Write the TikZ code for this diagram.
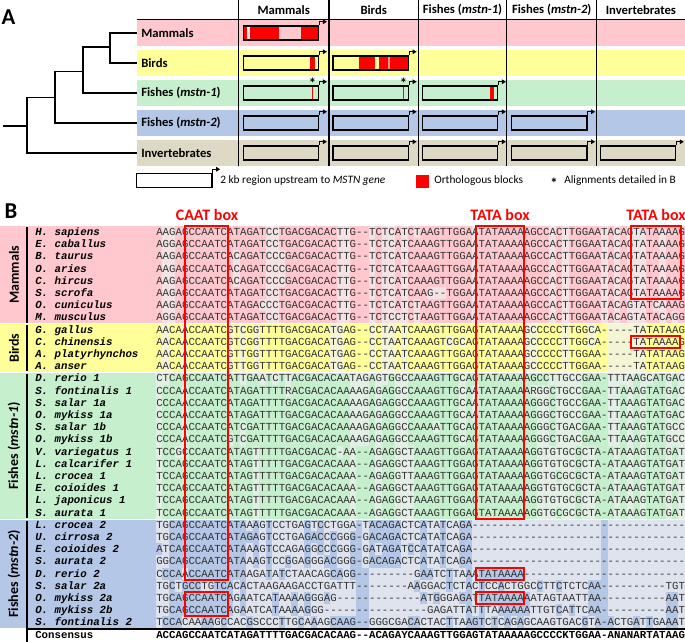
\documentclass[tikz,border=0pt]{standalone}
\usepackage{fontspec}
\setmainfont{Carlito}
\setmonofont{Liberation Mono}
\usetikzlibrary{arrows.meta}

\definecolor{mampink}{RGB}{255,199,206}
\definecolor{birdyellow}{RGB}{255,255,153}
\definecolor{fishgreen}{RGB}{198,239,206}
\definecolor{fishblue}{RGB}{180,199,231}
\definecolor{invtan}{RGB}{221,217,196}

% residues that differ from the consensus get a pale cell
\newcount\cellno
\def\consensus{ACCAGCCAATCATAGATTTTGACGACACAAG--ACAGAYCAAAGTTGGAGTATAAAAAGCCCCKTGGAA-ANANARTATAAG}
\def\shadestep#1#2\relax#3#4\relax{%
  \if#1#3\else\fill[mismatch] (156+6.45*\the\cellno,\rowy-6.1) rectangle ++(6.45,12.2);\fi
  \advance\cellno by 1
  \ifx\relax#2\relax\else\ifx\relax#4\relax\else\shadestep#2\relax#4\relax\fi\fi}
\newcommand\seqrow[4]{%
  \def\rowy{#2}\cellno=0
  \expandafter\shadestep\consensus\relax#4\relax
  \node[species] (#1) at (35,#2+3.5) {#3};
  \node[residues] (#1-seq) at (156,#2+3.5) {#4};}

\begin{document}
\begin{tikzpicture}[x=0.75pt,y=-0.75pt,
  panel/.style={font=\fontsize{17}{20}\selectfont\bfseries,inner sep=0pt},
  band/.style={minimum width=411pt,minimum height=19.5pt,inner sep=0pt,anchor=west},
  rowlabel/.style={font=\fontsize{9.5}{11}\selectfont\bfseries,anchor=west,inner sep=0pt},
  colhead/.style={font=\fontsize{9.5}{11}\selectfont\bfseries,inner sep=0pt},
  colline/.style={line width=1.1pt},
  treeline/.style={line width=1.3pt},
  genebox/.style={draw,line width=1.1pt,minimum width=56.5pt,minimum height=10.5pt,inner sep=0pt},
  tss/.style={line width=0.9pt,-{Triangle[length=3pt,width=3.4pt]}},
  ortho/.style={fill=red},
  asterisk/.style={font=\fontsize{11}{12}\selectfont\bfseries,inner sep=0pt},
  legtext/.style={font=\fontsize{8.5}{10}\selectfont,anchor=west,inner sep=0pt},
  grouplabel/.style={font=\fontsize{10.5}{12}\selectfont\bfseries,rotate=90,inner sep=0pt},
  groupline/.style={line width=1.5pt},
  species/.style={font=\ttfamily\fontsize{8.06}{9}\selectfont\bfseries\itshape,anchor=base west,inner sep=0pt},
  residues/.style={font=\ttfamily\fontsize{8.06}{9}\selectfont,text=black!80,anchor=base west,inner sep=0pt},
  mismatch/.style={fill=black!6,fill opacity=.7},
  redbox/.style={draw=red,line width=1.5pt},
  boxlabel/.style={font=\fontsize{12}{14}\selectfont\bfseries,text=red,inner sep=0pt}]
\useasboundingbox (0,0) rectangle (685,642);

%%% panel A
\node[panel] (laba) at (8.5,17.5) {A};

\node[band,fill=mampink] (rowmam) at (137,33) {};
\node[band,fill=birdyellow] (rowbird) at (137,63) {};
\node[band,fill=fishgreen] (rowfa) at (137,93) {};
\node[band,fill=fishblue] (rowfb) at (137,123) {};
\node[band,fill=invtan] (rowinv) at (137,153) {};

\node[rowlabel] (labmam) at (141,33) {Mammals};
\node[rowlabel] (labbird) at (141,63) {Birds};
\node[rowlabel] (labfa) at (141,93) {Fishes (\textit{mstn-1})};
\node[rowlabel] (labfb) at (141,123) {Fishes (\textit{mstn-2})};
\node[rowlabel] (labinv) at (141,153) {Invertebrates};

% tree
\draw[treeline] (rowmam.west) -- (110,33) -- (110,63) -- (rowbird.west);
\draw[treeline] (110,47) -- (83,47) -- (83,93) -- (rowfa.west);
\draw[treeline] (83,71.5) -- (55,71.5) -- (55,123) -- (rowfb.west);
\draw[treeline] (55,97.5) -- (27,97.5) -- (27,153) -- (rowinv.west);
\draw[treeline] (27,126) -- (3,126);

% table
\draw[line width=1pt] (137,19.5) -- (685,19.5);
\draw[colline] (238.3,0) -- (238.3,166);
\draw[colline] (329,0) -- (329,166);
\draw[colline] (418.3,0) -- (418.3,166);
\draw[colline] (506.7,0) -- (506.7,166);
\draw[colline] (596.7,0) -- (596.7,166);
\node[colhead] (hmam) at (283.7,10) {Mammals};
\node[colhead] (hbird) at (373.7,10) {Birds};
\node[colhead] (hfa) at (462.5,10) {Fishes (\textit{mstn-1})};
\node[colhead] (hfb) at (551.7,10) {Fishes (\textit{mstn-2})};
\node[colhead] (hinv) at (640.9,10) {Invertebrates};

% orthologous blocks
\fill[ortho] (244,26) rectangle (279.3,40);
\fill[mampink!40] (247.3,26) rectangle (250,40);
\fill[ortho] (300.7,26) rectangle (318.3,40);
\fill[ortho] (310.3,56) rectangle (315,70);
\fill[ortho] (359,56) rectangle (375,70);
\fill[ortho] (379,56) rectangle (408,70);
\fill[red!45] (388.3,56) rectangle (389.7,70);
\fill[ortho] (311.8,86) rectangle (313.4,100);
\fill[ortho] (402.7,86) rectangle (404.3,100);
\fill[ortho] (490,86) rectangle (493.5,100);

% upstream regions
\node[genebox] (bmam1) at (281,33) {}; \draw[tss] (bmam1.north east) -- ++(0,-3.5) -- ++(7.5,0);
\node[genebox] (bbird1) at (281,63) {}; \draw[tss] (bbird1.north east) -- ++(0,-3.5) -- ++(7.5,0);
\node[genebox] (bbird2) at (370.7,63) {}; \draw[tss] (bbird2.north east) -- ++(0,-3.5) -- ++(7.5,0);
\node[genebox] (bfa1) at (281,93) {}; \draw[tss] (bfa1.north east) -- ++(0,-3.5) -- ++(7.5,0);
\node[genebox] (bfa2) at (370.7,93) {}; \draw[tss] (bfa2.north east) -- ++(0,-3.5) -- ++(7.5,0);
\node[genebox] (bfa3) at (460,93) {}; \draw[tss] (bfa3.north east) -- ++(0,-3.5) -- ++(7.5,0);
\node[genebox] (bfb1) at (281,123) {}; \draw[tss] (bfb1.north east) -- ++(0,-3.5) -- ++(7.5,0);
\node[genebox] (bfb2) at (370.7,123) {}; \draw[tss] (bfb2.north east) -- ++(0,-3.5) -- ++(7.5,0);
\node[genebox] (bfb3) at (460,123) {}; \draw[tss] (bfb3.north east) -- ++(0,-3.5) -- ++(7.5,0);
\node[genebox] (bfb4) at (549.2,123) {}; \draw[tss] (bfb4.north east) -- ++(0,-3.5) -- ++(7.5,0);
\node[genebox] (binv1) at (281,153) {}; \draw[tss] (binv1.north east) -- ++(0,-3.5) -- ++(7.5,0);
\node[genebox] (binv2) at (370.7,153) {}; \draw[tss] (binv2.north east) -- ++(0,-3.5) -- ++(7.5,0);
\node[genebox] (binv3) at (460,153) {}; \draw[tss] (binv3.north east) -- ++(0,-3.5) -- ++(7.5,0);
\node[genebox] (binv4) at (549.2,153) {}; \draw[tss] (binv4.north east) -- ++(0,-3.5) -- ++(7.5,0);
\node[genebox] (binv5) at (637.9,153) {}; \draw[tss] (binv5.north east) -- ++(0,-3.5) -- ++(7.5,0);

\node[asterisk] (stara) at (312.6,83.5) {*};
\node[asterisk] (starb) at (403.5,83.5) {*};

% legend
\node[genebox,fill=white] (legbox) at (174.2,180.5) {};
\draw[tss] (legbox.north east) -- ++(0,-3.5) -- ++(7.5,0);
\node[legtext] (legtxt) at (220,181) {2 kb region upstream to \textit{MSTN gene}};
\node[fill=red,minimum size=10pt,inner sep=0pt] (legred) at (422.7,181.5) {};
\node[legtext] (legortho) at (434,181) {Orthologous blocks};
\node[asterisk] (legstar) at (554,183) {*};
\node[legtext] (legalign) at (564,181) {Alignments detailed in B};

%%% panel B
\node[panel] (labb) at (11,211) {B};

\fill[mampink] (0,226) rectangle (685,323.3);
\fill[birdyellow] (0,324.3) rectangle (685,372.1);
\fill[fishgreen] (0,373.1) rectangle (685,518.5);
\fill[fishblue] (0,519.5) rectangle (685,628);

\seqrow{hsap}{232}{H. sapiens}{AAGAGCCAATCATAGATCCTGACGACACTTG--TCTCATCTAAGTTGGAATATAAAAAGCCACTTGGAATACAGTATAAAAG}
\seqrow{ecab}{244.2}{E. caballus}{AGGAGCCAATCATAGATCCTGACGACACTTG--TCTCATCAAAGTTGGAATATAAAAAGCCACTTGGAATACAGTATAAAAG}
\seqrow{btau}{256.4}{B. taurus}{AAGAGCCAATCACAGATCCCGACGACACTTG--TCTCATCAAAGTTGGAATATAAAAAGCCACTTGGAATACAGTATAAAAG}
\seqrow{oari}{268.6}{O. aries}{AAGAGCCAATCACAGATCCCGACGACACTTG--TCTCATCAAAGTTGGAATATAAAAAGCCACTTGGAATACAGTATAAAAG}
\seqrow{chir}{280.8}{C. hircus}{AAGAGCCAATCACAGATCCCGACGACACTTG--TCTCATCAAAGTTGGAATATAAAAAGCCACTTGGAATACAGTATAAAAG}
\seqrow{sscr}{293}{S. scrofa}{AAGAGCCAATCATAGATCCTGACGACACTTG--TCTCATCAAG--TGGAATATAAAAAGCCACTTGGAATACAGTATAAAAG}
\seqrow{ocun}{305.2}{O. cuniculus}{AAGAGCCAATCATAGACCCTGACGACACTTG--TCTCATCTAAGTTGGAATATAAAAAGCCACTTGGAATACAGTATCAAAG}
\seqrow{mmus}{317.4}{M. musculus}{AGGAGCCAATCATAGATCCTGACGACACTTG--TCTCCTCTAAGTTGGAATATAAAAAGCCACTTGGAATACAGTATACAGG}

\seqrow{ggal}{329.6}{G. gallus}{AACAACCAATCGTCGGTTTTGACGACATGAG--CCTAATCAAAGTTGGAGTATAAAAGCCCCCTTGGCA-----TATATAAG}
\seqrow{cchi}{341.8}{C. chinensis}{AACAACCAATCGTCGGTTTTGACGACATGAG--CCTAATCAAAGTCGCAGTATAAAAGCCCCCTTGGCA-----TATAAAAG}
\seqrow{apla}{354}{A. platyrhynchos}{AACAACCAATCGTTGGTTTTGACGACATGAG--CCTAATCAAAGTTGGAGTATAAAAGCCCCCTTGGAA-----TATATAAG}
\seqrow{anse}{366.2}{A. anser}{AACAACCAATCGTTGGTTTTGACGACATGAG--CCTAATCAAAGTTGGAGTATAAAAGCCCCCTTGGAA-----TATATAAG}

\seqrow{drer1}{378.4}{D. rerio 1}{CTCAGCCAATCATTGAATCTTACGACACAATAGAGTGGCCAAAGTTGCAGTATAAAAAGCCTTGCCGAA-TTTAAGCATGAC}
\seqrow{sfon1}{390.6}{S. fontinalis 1}{CCCAACCAATCATAGATTTTRACGACACAAAAGAGAGGCCAAAGTTGCAATATAAAAARGGCTGCCGAA-TTAAAGTATGAC}
\seqrow{ssal1a}{402.8}{S. salar 1a}{CCCAACCAATCATAGATTTTGACGACACAAAAGAGAGGCCAAAGTTGCAATATAAAAAGGGCTGCCGAA-TTAAAGTATGAC}
\seqrow{omyk1a}{415}{O. mykiss 1a}{CCCAACCAATCATAGATTTTGACGACACAAAAGAGAGGCCAAAGTTGCAATATAAAAAGGGCTGCCGAA-TTAAAGTATGAC}
\seqrow{ssal1b}{427.2}{S. salar 1b}{CCCAACCAATCATCGATTTTGACGACACAAAAGAGAGGCCAAAATTGCAGTATAAAAAGGGCTGACGAA-TTAAAGTATGCC}
\seqrow{omyk1b}{439.4}{O. mykiss 1b}{CCCAACCAATCGTCGATTTTGACGACACAAAAGAGAGGCCAAAGTTGCAGTATAAAAAGGGCTGACGAA-TTAAAGTATGCC}
\seqrow{vvar1}{451.6}{V. variegatus 1}{TCCGCCCAATCATAGTTTTTGACGACAC-AA--AGAGGCTAAAGTTGGAGTATAAAAAGGTGTGCGCTA-ATAAAGTATGAT}
\seqrow{lcal1}{463.8}{L. calcarifer 1}{TCCAGCCAATCATAGTTTTTGACGACACAAA--AGAGGCTAAAGTTGGAGTATAAAAAGGTGTGCGCTA-ATAAAGTATGAT}
\seqrow{lcro1}{476}{L. crocea 1}{TCCAGCCAATCATAGTTTTTGACGACACAAA--AGAGGTTAAAGTTGGAGTATAAAAAGGTGCGCGCTA-ATAAAGTATGAT}
\seqrow{ecoi1}{488.2}{E. coioides 1}{TCCAGCCAATCATAGTTTTTGACGACACAAA--AGAGGCTAAAGTTGGAGTATAAAAAGGTGTGCGCTA-ATAAAGTATGAT}
\seqrow{ljap1}{500.4}{L. japonicus 1}{TCCAGCCAATCATAGTTTTTGACGACACAAA--AGAGGCTAAAGTTGGAGTATAAAAAGGTGTGCGCTA-ATAAAGTATGAT}
\seqrow{saur1}{512.6}{S. aurata 1}{TCCAGCCAATCATAGTTTTTGACGACACAAA--AGAGGCTAAAGTTGGAGTATAAAAAGGTGCGCGCTA-ATAAAGTATGAT}

\seqrow{lcro2}{524.8}{L. crocea 2}{TGCAGCCAATCATAAAGTCCTGAGTCCTGGA-TACAGACTCATATCAGA---------------------------------}
\seqrow{ucir2}{537}{U. cirrosa 2}{TGCAGCCAATCATAGAGTCCTGAGACCCGGG-GACAGACTCATATCAGA---------------------------------}
\seqrow{ecoi2}{549.2}{E. coioides 2}{ATCAGCCAATCATAAAGTCCAGAGGCCCGGG-GATAGATCCATATCAGA---------------------------------}
\seqrow{saur2}{561.4}{S. aurata 2}{GGCAGCCAATCATAAAGTCCGGAGGGACGGG-GACAGACTCATATCAGA---------------------------------}
\seqrow{drer2}{573.6}{D. rerio 2}{CCCAACCAATCATAAGATATCTAACAGCAGG---------GAATCTTAAATATAAAA-------------------------}
\seqrow{ssal2a}{585.8}{S. salar 2a}{TGCTGCCTGTCACACTAAGAAGACCTGATTT--------AAGGACTCTACTCCACTGGCCTTCTCTCAA----------TGT}
\seqrow{omyk2a}{598}{O. mykiss 2a}{TGCAGCCAATCAGAATCATAAAAGGGAG-------------ATGGGAGATTATAAAAAATAGTAATTAA----------AAT}
\seqrow{omyk2b}{610.2}{O. mykiss 2b}{TGCAGCCAATCAGAATCATAAAAGGG----------------GAGATTATTTAAAAAATTGTCATTCAA----------AAT}
\seqrow{sfon2}{622.4}{S. fontinalis 2}{TCCACAAAAGCCACGSCCCTTGCAAAGCAAG--GGGCGACACTACTTAAGTCTCAGAGCAAGTGACGTA-ACTGATTGAAAT}

\node[species,font=\ttfamily\fontsize{8.06}{9}\selectfont\bfseries] (cons) at (35,638.1) {Consensus};
\node[residues,font=\ttfamily\fontsize{8.06}{9}\selectfont\bfseries,text=black] (cons-seq) at (156,638.1) {\consensus};

% group marks
\draw[groupline] (27,227) -- (27,322.5);
\draw[groupline] (27,325.3) -- (27,371);
\draw[groupline] (27,374) -- (27,517.5);
\draw[groupline] (27,520.5) -- (27,642);
\draw[groupline] (27,628.5) -- (685,628.5);
\node[grouplabel] (gmam) at (14,274.7) {Mammals};
\node[grouplabel] (gbird) at (14,348.2) {Birds};
\node[grouplabel] (gfa) at (14,445.8) {Fishes (\textit{mstn-1})};
\node[grouplabel] (gfb) at (14,573.8) {Fishes (\textit{mstn-2})};

% CAAT and TATA boxes
\draw[redbox] (185,226) rectangle (227.7,579.7);
\draw[redbox] (185,591.9) rectangle (227.7,616.3);
\draw[redbox] (476,226) rectangle (524,518.7);
\draw[redbox] (476,567.5) rectangle (524,579.7);
\draw[redbox] (476,591.9) rectangle (524,604.1);
\draw[redbox] (631,226) rectangle (681,299.1);
\draw[redbox] (631,335.7) rectangle (680,347.9);
\node[boxlabel] (caatlab) at (207,214.5) {CAAT box};
\node[boxlabel] (tatalab) at (500,214.5) {TATA box};
\node[boxlabel] (tatalabb) at (656,214.5) {TATA box};

\end{tikzpicture}
\end{document}
